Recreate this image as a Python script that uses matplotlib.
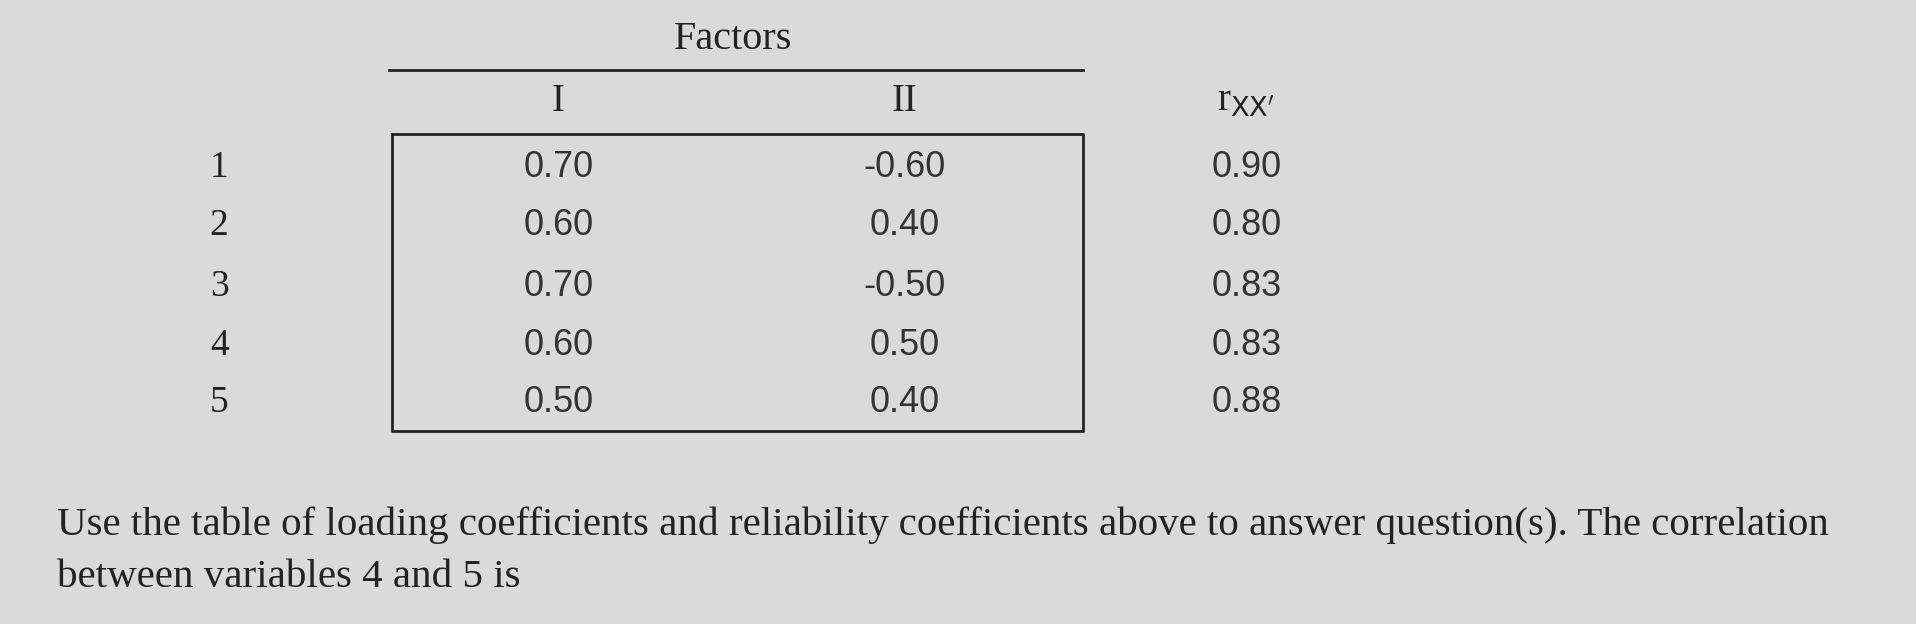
import matplotlib
matplotlib.use("Agg")
import matplotlib.pyplot as plt

rows = ["1", "2", "3", "4", "5"]
factor_1 = ["0.70", "0.60", "0.70", "0.60", "0.50"]
factor_2 = ["-0.60", "0.40", "-0.50", "0.50", "0.40"]
rxx = ["0.90", "0.80", "0.83", "0.83", "0.88"]
headers = ["I", "II", "r$_{\\mathrm{XX}'}$"]
question = ["Use the table of loading coefficients and reliability coefficients above to answer question(s). The correlation",
            "between variables 4 and 5 is"]

W, H = 1568, 511  # layout reference units
fig = plt.figure(figsize=(19.16, 6.24), dpi=100)
fig.patch.set_facecolor("#d9dbd9")
ax = fig.add_axes([0, 0, 1, 1])
ax.set_xlim(0, W)
ax.set_ylim(H, 0)
ax.axis("off")

serif = "Liberation Serif"
sans = "Liberation Sans"
col_x = [457, 740, 1020]
row_y = [137, 185, 235, 283, 330]

ax.text(600, 32, "Factors", ha="center", va="center", fontsize=29, family=serif, color="#222")
ax.plot([318, 886], [57, 57], color="#222", lw=2)
for x, h in zip(col_x, headers):
    ax.text(x, 83, h, ha="center", va="center", fontsize=28, family=serif, color="#222")
ax.plot([321, 886, 886, 321, 321], [110, 110, 353, 353, 110], color="#222", lw=2)

for i, y in enumerate(row_y):
    ax.text(187, y, rows[i], ha="right", va="center", fontsize=27, family=serif, color="#222")
    for x, col in zip(col_x, [factor_1, factor_2, rxx]):
        ax.text(x, y, col[i], ha="center", va="center", fontsize=26, family=sans, color="#333")

for j, line in enumerate(question):
    ax.text(47, 430 + 43 * j, line, ha="left", va="center", fontsize=29.5, family=serif, color="#222")

fig.savefig("out.png", dpi=100, facecolor=fig.get_facecolor())
